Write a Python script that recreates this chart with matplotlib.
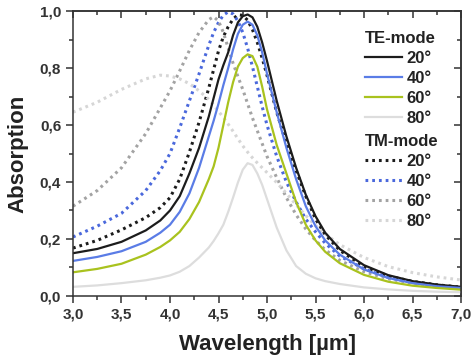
import matplotlib
matplotlib.use('Agg')
from matplotlib import pyplot as plt
from matplotlib.ticker import MultipleLocator, FuncFormatter

plt.rcParams['font.family'] = ['Liberation Sans', 'DejaVu Sans']
plt.rcParams['font.weight'] = 'bold'
plt.rcParams['axes.labelweight'] = 'bold'

# wavelength grid [um]
wavelength = [3.0, 3.25, 3.5, 3.75, 3.9, 4.0, 4.1, 4.2, 4.3, 4.4, 4.45, 4.5, 4.55, 4.6, 4.65,
              4.7, 4.75, 4.8, 4.85, 4.9, 4.95, 5.0, 5.1, 5.2, 5.3, 5.4, 5.5, 5.6, 5.75,
              6.0, 6.25, 6.5, 6.75, 7.0]

# TE-mode (solid)
te_20 = [0.150, 0.165, 0.190, 0.230, 0.265, 0.300, 0.350, 0.430, 0.520, 0.630, 0.695, 0.760,
         0.810, 0.855, 0.915, 0.960, 0.982, 0.988, 0.978, 0.945, 0.890, 0.825, 0.685, 0.560,
         0.450, 0.355, 0.280, 0.222, 0.165, 0.108, 0.073, 0.052, 0.040, 0.032]
te_40 = [0.123, 0.137, 0.157, 0.190, 0.222, 0.250, 0.295, 0.360, 0.450, 0.560, 0.615, 0.675,
         0.740, 0.800, 0.865, 0.920, 0.952, 0.963, 0.952, 0.915, 0.855, 0.780, 0.645, 0.520,
         0.410, 0.315, 0.245, 0.195, 0.145, 0.093, 0.063, 0.045, 0.034, 0.028]
te_60 = [0.083, 0.095, 0.113, 0.145, 0.172, 0.195, 0.225, 0.270, 0.330, 0.410, 0.455, 0.520,
         0.600, 0.680, 0.750, 0.805, 0.835, 0.848, 0.842, 0.805, 0.735, 0.655, 0.530, 0.430,
         0.330, 0.250, 0.195, 0.155, 0.115, 0.074, 0.050, 0.036, 0.028, 0.022]
te_80 = [0.032, 0.037, 0.045, 0.055, 0.064, 0.072, 0.085, 0.105, 0.135, 0.170, 0.193, 0.220,
         0.250, 0.295, 0.345, 0.398, 0.443, 0.466, 0.460, 0.430, 0.390, 0.340, 0.240, 0.160,
         0.105, 0.078, 0.062, 0.052, 0.042, 0.030, 0.023, 0.018, 0.015, 0.013]

# TM-mode (dotted)
tm_20 = [0.168, 0.195, 0.232, 0.275, 0.310, 0.345, 0.410, 0.505, 0.610, 0.730, 0.795, 0.860,
         0.910, 0.945, 0.972, 0.987, 0.985, 0.968, 0.935, 0.890, 0.835, 0.775, 0.645, 0.535,
         0.440, 0.350, 0.270, 0.215, 0.160, 0.103, 0.070, 0.051, 0.039, 0.031]
tm_40 = [0.207, 0.245, 0.290, 0.370, 0.440, 0.500, 0.590, 0.685, 0.780, 0.880, 0.925, 0.960,
         0.986, 0.997, 0.990, 0.965, 0.925, 0.870, 0.805, 0.735, 0.665, 0.600, 0.490, 0.400,
         0.330, 0.270, 0.225, 0.185, 0.140, 0.095, 0.065, 0.047, 0.036, 0.029]
tm_60 = [0.315, 0.370, 0.450, 0.570, 0.660, 0.720, 0.790, 0.862, 0.925, 0.970, 0.980, 0.965,
         0.925, 0.870, 0.817, 0.770, 0.725, 0.675, 0.625, 0.580, 0.535, 0.490, 0.415, 0.345,
         0.285, 0.235, 0.195, 0.162, 0.125, 0.085, 0.060, 0.045, 0.035, 0.029]
tm_80 = [0.645, 0.680, 0.725, 0.762, 0.775, 0.772, 0.762, 0.745, 0.720, 0.690, 0.670, 0.648,
         0.627, 0.603, 0.578, 0.552, 0.527, 0.505, 0.485, 0.467, 0.450, 0.433, 0.398, 0.360,
         0.320, 0.282, 0.247, 0.218, 0.180, 0.135, 0.103, 0.082, 0.067, 0.056]

angles = ['20°', '40°', '60°', '80°']
te_colors = ['#1c1c1c', '#5a7ce6', '#a9c21e', '#dddddd']
tm_colors = ['#1c1c1c', '#4a68dc', '#a3a3a3', '#d6d6d6']

fig = plt.figure(figsize=(4.74, 3.57), dpi=100)
ax = fig.add_axes([0.154, 0.171, 0.8186, 0.798])

dots = (0, (0.9, 1.3))
tm_lines = []
for y, c, lab in zip([tm_20, tm_40, tm_60, tm_80], tm_colors, angles):
    l, = ax.plot(wavelength, y, color=c, lw=2.2, linestyle=dots, label=lab)
    tm_lines.append(l)
te_lines = []
for y, c, lab in zip([te_20, te_40, te_60, te_80], te_colors, angles):
    l, = ax.plot(wavelength, y, color=c, lw=1.6, label=lab)
    te_lines.append(l)

ax.set_xlim(3.0, 7.0)
ax.set_ylim(0.0, 1.0)
ax.xaxis.set_major_locator(MultipleLocator(0.5))
ax.xaxis.set_minor_locator(MultipleLocator(0.25))
ax.yaxis.set_major_locator(MultipleLocator(0.2))
ax.yaxis.set_minor_locator(MultipleLocator(0.1))
comma = FuncFormatter(lambda v, p: ('%.1f' % v).replace('.', ','))
ax.xaxis.set_major_formatter(comma)
ax.yaxis.set_major_formatter(comma)
ax.tick_params(which='both', direction='out', width=1.1, colors='#333333',
               labelsize=11, labelcolor='#333333')
ax.tick_params(which='major', length=5)
ax.tick_params(which='minor', length=3)
ax.tick_params(axis='x', pad=3)

# top and right: ticks pointing in, no labels
top = ax.secondary_xaxis('top')
top.xaxis.set_major_locator(MultipleLocator(0.5))
top.xaxis.set_minor_locator(MultipleLocator(0.25))
top.tick_params(which='both', direction='in', width=1.1, colors='#333333', labeltop=False)
top.tick_params(which='major', length=5)
top.tick_params(which='minor', length=3)
right = ax.secondary_yaxis('right')
right.yaxis.set_major_locator(MultipleLocator(0.2))
right.yaxis.set_minor_locator(MultipleLocator(0.1))
right.tick_params(which='both', direction='in', width=1.1, colors='#333333', labelright=False)
right.tick_params(which='major', length=5)
right.tick_params(which='minor', length=3)
for s in list(ax.spines.values()) + [top.spines['top'], right.spines['right']]:
    s.set_linewidth(1.1)
    s.set_color('#333333')

ax.set_xlabel('Wavelength [µm]', fontsize=16, color='#222222', labelpad=9)
ax.set_ylabel('Absorption', fontsize=16, color='#222222', labelpad=8)

leg_kw = dict(loc='upper left', frameon=False, fontsize=12, borderpad=0, borderaxespad=0,
              handlelength=2.2, handletextpad=0.3, labelspacing=0.3, alignment='left',
              title_fontproperties={'weight': 'bold', 'size': 12})
leg1 = ax.legend(handles=te_lines, title='TE-mode', bbox_to_anchor=(0.753, 0.93), **leg_kw)
ax.add_artist(leg1)
leg2 = ax.legend(handles=tm_lines, title='TM-mode', bbox_to_anchor=(0.753, 0.57), **leg_kw)
for lg in (leg1, leg2):
    lg.get_title().set_color('#222222')
    for t in lg.get_texts():
        t.set_color('#222222')

plt.savefig('out.png', dpi=100)
